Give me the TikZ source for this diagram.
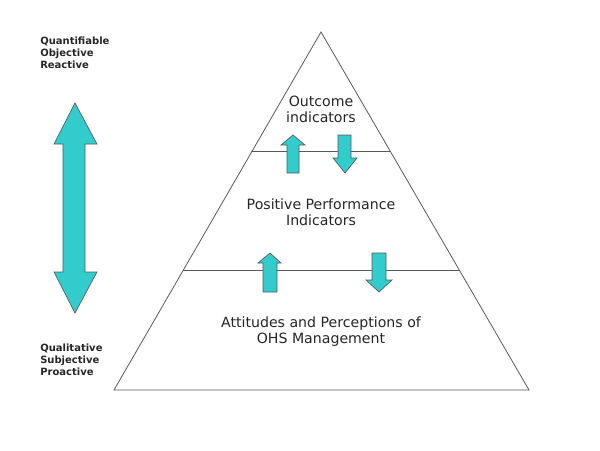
\documentclass[tikz,border=0pt]{standalone}
\usepackage{fontspec}
\setmainfont{DejaVu Sans}
\begin{document}
\begin{tikzpicture}[x=0.75pt,y=-0.75pt,
  arr/.style={fill=arrc, draw=gray!70!black, line width=0.5pt},
  lbl/.style={font=\fontsize{10.6}{12}\selectfont, align=center, text=black!85},
  side/.style={font=\fontsize{7.5}{9}\selectfont\bfseries, align=left, anchor=north west, inner sep=0pt, text=black!85}]
\definecolor{arrc}{HTML}{33CCCC}
\useasboundingbox (0,0) rectangle (600,450);
\coordinate (A) at (321,32);
\coordinate (L) at (114,390);
\coordinate (R) at (529,390);
\draw[gray!70!black, line width=0.6pt] (A) -- (L) -- (R) -- cycle;
\coordinate (l1a) at (251,151); \coordinate (l1b) at (390,151);
\coordinate (l2a) at (183,270); \coordinate (l2b) at (460,270);
\draw[gray!70!black, line width=0.6pt] (l1a) -- (l1b) (l2a) -- (l2b);
% big double arrow
\draw[arr] (75,103) -- (97,144) -- (85,144) -- (85,272) -- (97,272) -- (75,313) -- (54,272) -- (63,272) -- (63,144) -- (54,144) -- cycle;
% small arrows
\draw[arr] (293,135) -- (305,145) -- (299,145) -- (299,173) -- (287,173) -- (287,145) -- (281,145) -- cycle;
\draw[arr] (345,173) -- (357,158) -- (351,158) -- (351,135) -- (338,135) -- (338,158) -- (333,158) -- cycle;
\draw[arr] (270,253) -- (281,263) -- (277,263) -- (277,292) -- (263,292) -- (263,263) -- (258,263) -- cycle;
\draw[arr] (379,292) -- (392,280) -- (386,280) -- (386,253) -- (372,253) -- (372,280) -- (366,280) -- cycle;
\node[lbl] (t1) at (321,109) {Outcome\\indicators};
\node[lbl] (t2) at (321,212) {Positive Performance\\Indicators};
\node[lbl] (t3) at (321,332) {Attitudes and Perceptions of\\OHS Management};
\node[side] (s1) at (40,37) {Quantifiable\\Objective\\Reactive};
\node[side] (s2) at (40,344) {Qualitative\\Subjective\\Proactive};
\end{tikzpicture}
\end{document}
